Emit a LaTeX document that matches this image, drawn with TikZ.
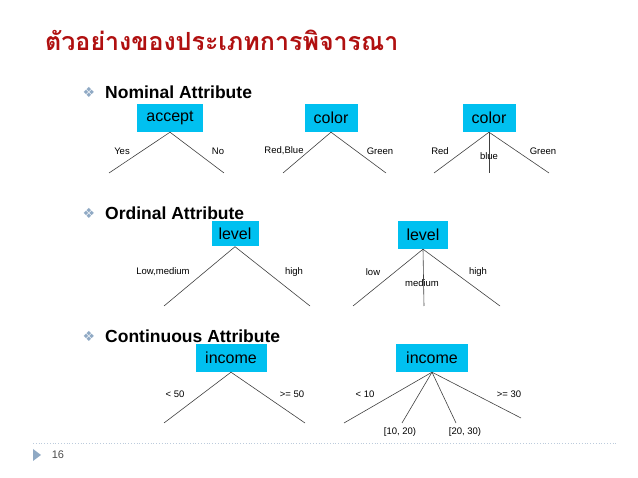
\documentclass[tikz,border=0pt]{standalone}
\usepackage{fontspec}
\setmainfont{Liberation Sans}
\newfontfamily\thaifont[Script=Thai]{Loma}
\newfontfamily\djv{DejaVu Sans}
\begin{document}
\begin{tikzpicture}[x=1pt,y=-1pt,
  box/.style={fill=boxc,inner sep=0pt,font=\fontsize{16}{16}\selectfont},
  lab/.style={inner sep=0pt,font=\fontsize{9.5}{9.5}\selectfont},
  head/.style={anchor=west,inner sep=0pt,font=\bfseries\fontsize{17.5}{17.5}\selectfont},
  bul/.style={inner sep=0pt,text=bulc,font=\djv\fontsize{14}{14}\selectfont},
  br/.style={draw=black!75,line width=0.6pt}]
\definecolor{boxc}{HTML}{00C0F0}
\definecolor{bulc}{HTML}{8FA9C4}
\definecolor{titc}{HTML}{B01010}
\useasboundingbox (0,0) rectangle (638,478);
\node[anchor=west,inner sep=0pt,text=titc,font=\thaifont\bfseries\fontsize{25}{25}\selectfont] (title) at (45,40) {ตัวอย่างของประเภทการพิจารณา};
% row 1
\node[bul] (b1) at (89,92) {❖};
\node[head] (h1) at (105,92) {Nominal Attribute};
\node[box,minimum width=66,minimum height=28] (a) at (170,118) {accept};
\coordinate (a1) at (109,173); \coordinate (a2) at (224,173);
\draw[br] (a.south) -- (a1); \draw[br] (a.south) -- (a2);
\node[lab] (ya) at (122,151) {Yes}; \node[lab] (na) at (218,151) {No};
\node[box,minimum width=53,minimum height=28] (c) at (331,118) {color};
\coordinate (c1) at (283,173); \coordinate (c2) at (386,173);
\draw[br] (c.south) -- (c1); \draw[br] (c.south) -- (c2);
\node[lab] (rb) at (284,151) {Red,Blue}; \node[lab] (gr) at (380,151) {Green};
\node[box,minimum width=53,minimum height=28] (d) at (489,118) {color};
\coordinate (d1) at (434,173); \coordinate (d2) at (489,173); \coordinate (d3) at (549,173);
\draw[br] (d.south) -- (d1); \draw[br] (d.south) -- (d2); \draw[br] (d.south) -- (d3);
\node[lab] (rd) at (440,151) {Red}; \node[lab] (bl) at (489,156) {blue}; \node[lab] (gd) at (543,151) {Green};
% row 2
\node[bul] (b2) at (89,213) {❖};
\node[head] (h2) at (105,213) {Ordinal Attribute};
\node[box,minimum width=47,minimum height=25] (l) at (235,234) {level};
\coordinate (l1) at (164,306); \coordinate (l2) at (310,306);
\draw[br] (l.south) -- (l1); \draw[br] (l.south) -- (l2);
\node[lab] (lm) at (163,272) {Low,medium}; \node[lab] (hi) at (294,272) {high};
\node[box,minimum width=50,minimum height=28] (m) at (423,235) {level};
\coordinate (m1) at (353,306); \coordinate (m2) at (424,306); \coordinate (m3) at (500,306);
\draw[br] (m.south) -- (m1); \draw[br] (m.south) -- (m2); \draw[br] (m.south) -- (m3);
\node[lab] (lo) at (373,272) {low}; \node[lab] (me) at (422,283) {medium}; \node[lab] (hg) at (478,272) {high};
% row 3
\node[bul] (b3) at (89,336) {❖};
\node[head] (h3) at (105,336) {Continuous Attribute};
\node[box,minimum width=71,minimum height=28] (i) at (231,358) {income};
\coordinate (i1) at (164,423); \coordinate (i2) at (305,423);
\draw[br] (i.south) -- (i1); \draw[br] (i.south) -- (i2);
\node[lab] (i50) at (175,394) {< 50}; \node[lab] (j50) at (292,394) {>= 50};
\node[box,minimum width=72,minimum height=28] (k) at (432,358) {income};
\coordinate (k1) at (344,423); \coordinate (k2) at (402,423); \coordinate (k3) at (456,423); \coordinate (k4) at (521,418);
\draw[br] (k.south) -- (k1); \draw[br] (k.south) -- (k2); \draw[br] (k.south) -- (k3); \draw[br] (k.south) -- (k4);
\node[lab] (k10) at (365,394) {< 10}; \node[lab] (k30) at (509,394) {>= 30};
\node[lab] (k12) at (400,432) {[10, 20)}; \node[lab] (k23) at (465,432) {[20, 30)};
% footer
\draw[bulc!60,dotted,line width=0.8pt] (33,443) -- (618,443);
\fill[bulc] (33,449) -- (41,455) -- (33,461) -- cycle;
\node[inner sep=0pt,text=black!70,font=\fontsize{11}{11}\selectfont] (pg) at (58,455) {16};
\end{tikzpicture}
\end{document}
